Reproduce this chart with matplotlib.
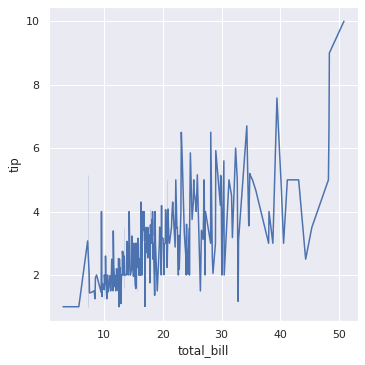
import matplotlib
matplotlib.use("Agg")
import matplotlib.pyplot as plt
import seaborn as sns
import pandas as pd

total_bill = [16.99,10.34,21.01,23.68,24.59,25.29,8.77,26.88,15.04,14.78,10.27,35.26,15.42,18.43,14.83,21.58,10.33,16.29,16.97,20.65,
17.92,20.29,15.77,39.42,19.82,17.81,13.37,12.69,21.7,19.65,9.55,18.35,15.06,20.69,17.78,24.06,16.31,16.93,18.69,31.27,
16.04,17.46,13.94,9.68,30.4,18.29,22.23,32.4,28.55,18.04,12.54,10.29,34.81,9.94,25.56,19.49,38.01,26.41,11.24,48.27,
20.29,13.81,11.02,18.29,17.59,20.08,16.45,3.07,20.23,15.01,12.02,17.07,26.86,25.28,14.73,10.51,17.92,27.2,22.76,17.29,
19.44,16.66,10.07,32.68,15.98,34.83,13.03,18.28,24.71,21.16,28.97,22.49,5.75,16.32,22.75,40.17,27.28,12.03,21.01,12.46,
11.35,15.38,44.3,22.42,20.92,15.36,20.49,25.21,18.24,14.31,14.0,7.25,38.07,23.95,25.71,17.31,29.93,10.65,12.43,24.08,
11.69,13.42,14.26,15.95,12.48,29.8,8.52,14.52,11.38,22.82,19.08,20.27,11.17,12.26,18.26,8.51,10.33,14.15,16.0,13.16,
17.47,34.3,41.19,27.05,16.43,8.35,18.64,11.87,9.78,7.51,14.07,13.13,17.26,24.55,19.77,29.85,48.17,25.0,13.39,16.49,
21.5,12.66,16.21,13.81,17.51,24.52,20.76,31.71,10.59,10.63,50.81,15.81,7.25,31.85,16.82,32.9,17.89,14.48,9.6,34.63,
34.65,23.33,45.35,23.17,40.55,20.69,20.9,30.46,18.15,23.1,15.69,19.81,28.44,15.48,16.58,7.56,10.34,43.11,13.0,13.51,
18.71,12.74,13.0,16.4,20.53,16.47,26.59,38.73,24.27,12.76,30.06,25.89,48.33,13.27,28.17,12.9,28.15,11.59,7.74,30.14,
12.16,13.42,8.58,15.98,13.42,16.27,10.09,20.45,13.28,22.12,24.01,15.69,11.61,10.77,15.53,10.07,12.6,32.83,35.83,29.03,
27.18,22.67,17.82,18.78]

tip = [1.01,1.66,3.5,3.31,3.61,4.71,2.0,3.12,1.96,3.23,1.71,5.0,1.57,3.0,3.02,3.92,1.67,3.71,3.5,3.35,
4.08,2.75,2.23,7.58,3.18,2.34,2.0,2.0,4.3,3.0,1.45,2.5,3.0,2.45,3.27,3.6,2.0,3.07,2.31,5.0,
2.24,2.54,3.06,1.32,5.6,3.0,5.0,6.0,2.05,3.0,2.5,2.6,5.2,1.56,4.34,3.51,3.0,1.5,1.76,6.73,
3.21,2.0,1.98,3.76,2.64,3.15,2.47,1.0,2.01,2.09,1.97,3.0,3.14,5.0,2.2,1.25,3.08,4.0,3.0,2.71,
3.0,3.4,1.83,5.0,2.03,5.17,2.0,4.0,5.85,3.0,3.0,3.5,1.0,4.3,3.25,4.73,4.0,1.5,3.0,1.5,
2.5,3.0,2.5,3.48,4.08,1.64,4.06,4.29,3.76,4.0,3.0,1.0,4.0,2.55,4.0,3.5,5.07,1.5,1.8,2.92,
2.31,1.68,2.5,2.0,2.52,4.2,1.48,2.0,2.0,2.18,1.5,2.83,1.5,2.0,3.25,1.25,2.0,2.0,2.0,2.75,
3.5,6.7,5.0,5.0,2.3,1.5,1.36,1.63,1.73,2.0,2.5,2.0,2.74,2.0,2.0,5.14,5.0,3.75,2.61,2.0,
3.5,2.5,2.0,2.0,3.0,3.48,2.24,4.5,1.61,2.0,10.0,3.16,5.15,3.18,4.0,3.11,2.0,2.0,4.0,3.55,
3.68,5.65,3.5,6.5,3.0,5.0,3.5,2.0,3.5,4.0,1.5,4.19,2.56,2.02,4.0,1.44,2.0,5.0,2.0,2.0,
4.0,2.01,2.0,2.5,4.0,3.23,3.41,3.0,2.03,2.23,2.0,5.16,9.0,2.5,6.5,1.1,3.0,1.5,1.44,3.09,
2.2,3.48,1.92,3.0,1.58,2.5,2.0,3.0,2.72,2.88,2.0,3.0,3.39,1.47,3.0,1.25,1.0,1.17,4.67,5.92,
2.0,2.0,1.75,3.0]

df = pd.DataFrame({"total_bill": total_bill, "tip": tip})

sns.set_theme(style="darkgrid")
fig = plt.figure(figsize=(365/72, 365/72), dpi=72)
ax = fig.add_axes([49/365, 44/365, 309/365, 314/365])
sns.lineplot(data=df, x="total_bill", y="tip", errorbar=("pi", 100), ax=ax)
ax.set_xlabel("total_bill")
ax.set_ylabel("tip")
fig.savefig("out.png", dpi=72)
